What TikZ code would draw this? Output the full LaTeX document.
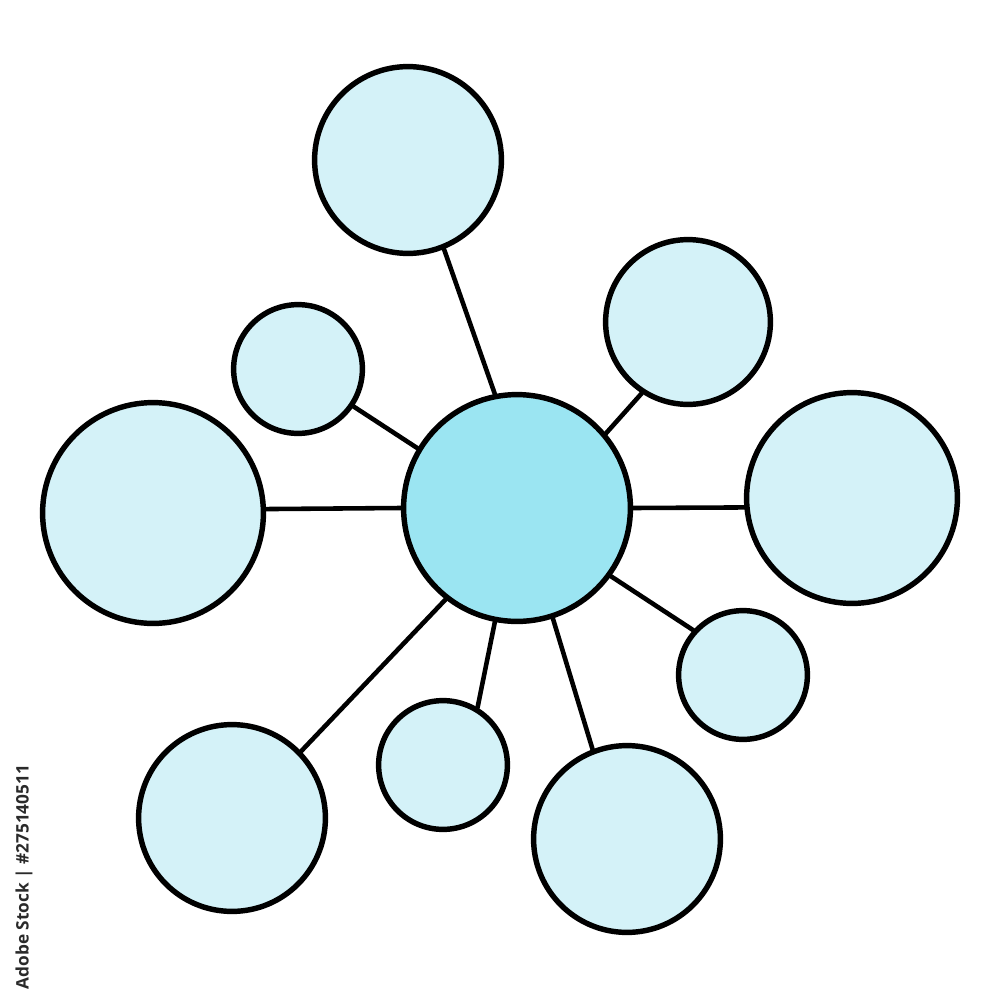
\documentclass[tikz,border=0pt]{standalone}
\usepackage{fontspec}
\newfontfamily\wmfont{Open Sans}
\definecolor{satfill}{HTML}{D4F2F8}
\definecolor{hubfill}{HTML}{9BE5F2}
\definecolor{wmgray}{HTML}{2A2A2A}
\begin{document}
\begin{tikzpicture}[x=0.01cm,y=-0.01cm,
  bubble/.style={circle, draw=black, line width=1.55pt, fill=satfill, inner sep=0pt, minimum size=#1},
  hub/.style={bubble=#1, fill=hubfill},
  link/.style={draw=black, line width=1.3pt, line cap=round}]
\useasboundingbox (0,0) rectangle (1000,1000);
\fill[white] (0,0) rectangle (1000,1000);
\node[hub=22.67mm] (c) at (517,508) {};
\node[bubble=18.67mm] (t) at (408,160) {};
\node[bubble=12.87mm] (ul) at (298,369) {};
\node[bubble=22.07mm] (l) at (153,513) {};
\node[bubble=16.47mm] (ur) at (688,322) {};
\node[bubble=21.07mm] (r) at (852,498) {};
\node[bubble=12.87mm] (lr) at (743,675) {};
\node[bubble=18.67mm] (br) at (627,839) {};
\node[bubble=12.87mm] (bs) at (443,765) {};
\node[bubble=18.67mm] (bl) at (232,818) {};
\draw[link] (c.101.7) -- (t.292);
\draw[link] (c.149.5) -- (ul.-34.4);
\draw[link] (c.180) -- (l.2.5);
\draw[link] (c.40.9) -- (ur.237.8);
\draw[link] (c.0) -- (r.185.3);
\draw[link] (c.-36.1) -- (lr.138.6);
\draw[link] (c.232) -- (bl.44.6);
\draw[link] (c.259.4) -- (bs.59.7);
\draw[link] (c.288.4) -- (br.111.9);
\node[rotate=90, text=wmgray, inner sep=0pt, font=\wmfont\bfseries\fontsize{4.9}{5}\selectfont] (wm) at (24,877) {Adobe Stock | \#275140511};
\end{tikzpicture}
\end{document}
